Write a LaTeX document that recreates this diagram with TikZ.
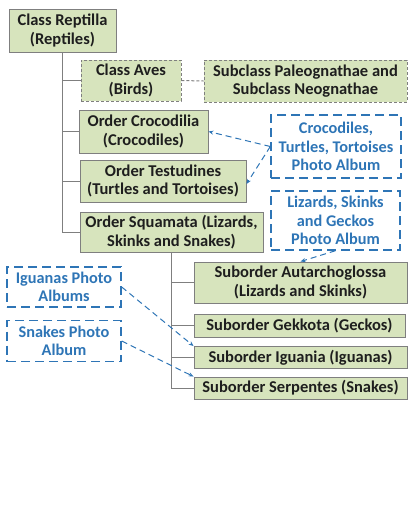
\documentclass[tikz,border=0pt]{standalone}
\usepackage{fontspec}
\setmainfont{Carlito}
\usetikzlibrary{arrows.meta}
\definecolor{boxfill}{HTML}{D7E4BD}
\definecolor{boxline}{HTML}{7F7F7F}
\definecolor{txt}{HTML}{1E1E1E}
\definecolor{albblue}{HTML}{2E75B6}
\tikzset{
  tax/.style={draw=boxline, fill=boxfill, line width=0.9pt, align=center, inner sep=0pt,
    font=\fontsize{16.5}{18.5}\selectfont\bfseries, text=txt},
  taxdash/.style={tax, dash pattern=on 3pt off 2pt},
  album/.style={draw=albblue, line width=1.4pt, dash pattern=on 9pt off 5pt, align=center, inner sep=0pt,
    font=\fontsize{16.3}{18.5}\selectfont\bfseries, text=albblue},
  tree/.style={draw=boxline, line width=1pt},
  link/.style={draw=albblue, line width=1pt, dash pattern=on 6pt off 4pt, -{Stealth[length=5pt,width=4pt]}}
}
\begin{document}
\begin{tikzpicture}[x=1pt,y=-1pt]
\useasboundingbox (0,0) rectangle (420,525);
% main level
\node[tax, minimum width=107, minimum height=43] (rep) at (62.5,30.5) {Class Reptilla\\(Reptiles)};
\node[taxdash, minimum width=100, minimum height=41] (aves) at (131,80.5) {Class Aves\\(Birds)};
\node[taxdash, minimum width=203, minimum height=42] (sub) at (305.5,81) {Subclass Paleognathae and\\Subclass Neognathae};
\node[tax, minimum width=129, minimum height=43] (croc) at (143.5,131.5) {Order Crocodilia\\(Crocodiles)};
\node[tax, minimum width=166, minimum height=42] (test) at (163,181) {Order Testudines\\(Turtles and Tortoises)};
\node[tax, minimum width=183, minimum height=40] (squa) at (171.5,232) {Order Squamata (Lizards,\\Skinks and Snakes)};
% suborders
\node[tax, minimum width=213, minimum height=41] (aut) at (300.5,282.5) {Suborder Autarchoglossa\\(Lizards and Skinks)};
\node[tax, minimum width=211, minimum height=23] (gek) at (299.5,325.5) {Suborder Gekkota (Geckos)};
\node[tax, minimum width=213, minimum height=22] (igu) at (300.5,357.5) {Suborder Iguania (Iguanas)};
\node[tax, minimum width=213, minimum height=22] (ser) at (300.5,388) {Suborder Serpentes (Snakes)};
% albums
\node[album, minimum width=130, minimum height=63] (calb) at (336,146.5) {Crocodiles,\\Turtles, Tortoises\\Photo Album};
\node[album, minimum width=129, minimum height=59] (lalb) at (335.5,220.5) {Lizards, Skinks\\and Geckos\\Photo Album};
\node[album, minimum width=114, minimum height=40] (ialb) at (64,287) {Iguanas Photo\\Albums};
\node[album, minimum width=114, minimum height=41] (salb) at (64,341) {Snakes Photo\\Album};
% tree
\draw[tree] (rep.south) |- (aves.west);
\draw[tree] (rep.south) |- (croc.west);
\draw[tree] (rep.south) |- (test.west);
\draw[tree] (rep.south) |- (squa.west);
\draw[tree, dash pattern=on 3pt off 2pt] (aves.east) -- (sub.west);
\draw[tree] (squa.south) |- (aut.west);
\draw[tree] (squa.south) |- (gek.west);
\draw[tree] (squa.south) |- (igu.west);
\draw[tree] (squa.south) |- (ser.west);
% links
\draw[link] (calb.west) -- (croc.east);
\draw[link] (calb.west) -- ([yshift=-3pt]test.east);
\draw[link] (lalb.south) -- (aut.north);
\draw[link] (ialb.east) -- (igu.north west);
\draw[link] (salb.east) -- (ser.north west);
\end{tikzpicture}
\end{document}
